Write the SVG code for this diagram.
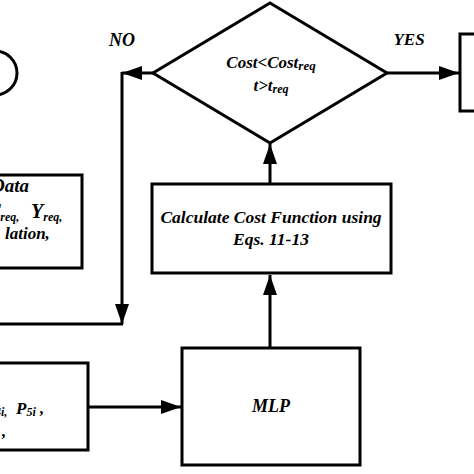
<svg xmlns="http://www.w3.org/2000/svg" width="474" height="474" viewBox="0 0 474 474">
<defs>
<style>
.box{fill:#fff;stroke:#000;stroke-width:3}
.ln{fill:none;stroke:#000;stroke-width:3}
text{font-family:"Liberation Serif","DejaVu Serif","Times New Roman",serif;font-weight:bold;font-style:italic;fill:#000}
</style>
<marker id="arr" markerUnits="userSpaceOnUse" markerWidth="20" markerHeight="14" refX="20" refY="7" orient="auto">
<path d="M0,0 L20,7 L0,14 z" fill="#000"/>
</marker>
</defs>
<rect width="474" height="474" fill="#fff"/>
<g id="start">
<circle cx="-5" cy="73" r="22" class="box"/>
</g>
<g id="data">
<rect x="-10" y="175" width="92" height="93" class="box"/>
<text x="29" y="192" font-size="19" text-anchor="end">Data</text>
<text y="218" font-size="20"><tspan x="-12">T</tspan><tspan font-size="12" dy="3">req,</tspan><tspan x="31" dy="-3">Y</tspan><tspan font-size="12" dy="3">req,</tspan></text>
<text x="5" y="239" font-size="17">lation,</text>
</g>
<g id="inputs">
<rect x="-10" y="363" width="98" height="87" class="box"/>
<text y="414" font-size="17"><tspan x="-5" font-size="12" dy="2">4i,</tspan><tspan x="16" dy="-2">P</tspan><tspan font-size="12" dy="2">5i</tspan><tspan dy="-2"> ,</tspan></text>
<text x="2" y="437" font-size="17">,</text>
</g>
<g id="decision">
<polygon points="270,3 387,73 270,143 153,73" class="box"/>
<text x="271" y="68" font-size="17" text-anchor="middle">Cost&lt;Cost<tspan font-size="13" dy="2">req</tspan></text>
<text x="271" y="91" font-size="17" text-anchor="middle">t&gt;t<tspan font-size="12" dy="2">req</tspan></text>
</g>
<g id="end">
<rect x="460" y="34" width="30" height="77" class="box"/>
</g>
<g id="calc">
<rect x="152" y="184" width="239" height="89" class="box"/>
<text x="271" y="223" font-size="17.5" text-anchor="middle">Calculate Cost Function using</text>
<text x="271" y="245" font-size="17.5" text-anchor="middle">Eqs. 11-13</text>
</g>
<g id="mlp">
<rect x="182" y="348" width="178" height="117" class="box"/>
<text x="271" y="412" font-size="18" text-anchor="middle">MLP</text>
</g>
<g id="connectors">
<line x1="153" y1="73" x2="122" y2="73" class="ln" marker-end="url(#arr)"/>
<line x1="122" y1="72" x2="122" y2="324" class="ln" marker-end="url(#arr)"/>
<line x1="0" y1="324" x2="123" y2="324" class="ln"/>
<line x1="387" y1="73" x2="459" y2="73" class="ln" marker-end="url(#arr)"/>
<line x1="270" y1="184" x2="270" y2="144" class="ln" marker-end="url(#arr)"/>
<line x1="270" y1="348" x2="270" y2="275" class="ln" marker-end="url(#arr)"/>
<line x1="88" y1="407" x2="181" y2="407" class="ln" marker-end="url(#arr)"/>
<text x="122" y="46" font-size="18" text-anchor="middle">NO</text>
<text x="409" y="45" font-size="17" text-anchor="middle">YES</text>
</g>
</svg>
